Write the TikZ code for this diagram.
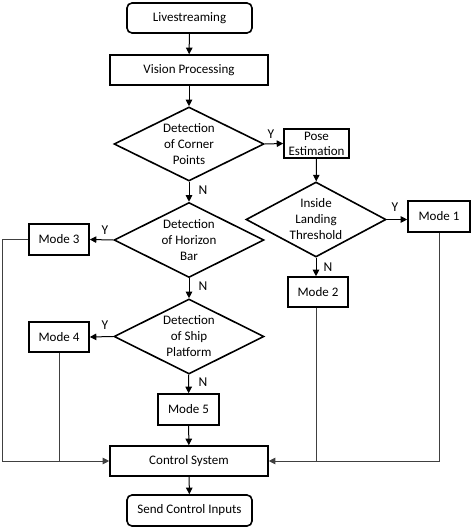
\documentclass[tikz,border=0pt]{standalone}
\usepackage{fontspec}
\setmainfont{Carlito}
\usetikzlibrary{shapes.geometric,arrows.meta,calc}
\begin{document}
\begin{tikzpicture}[x=1pt,y=-1pt,
  every node/.style={font=\fontsize{13}{16}\selectfont, text=black},
  box/.style={draw, line width=1.6pt, inner sep=0pt, align=center},
  term/.style={box, rounded corners=5pt},
  dec/.style={draw, line width=1.6pt, shape=diamond, inner sep=0pt, aspect=2, align=center},
  arr/.style={line width=1pt, -{Triangle[length=6.5pt,width=6.5pt]}},
  fb/.style={line width=0.9pt, black!75},
  fba/.style={fb, -{Triangle[length=6.5pt,width=6.5pt]}},
  lbl/.style={inner sep=0pt, font=\fontsize{13.5}{16}\selectfont}
]
\useasboundingbox (0,0) rectangle (474,530);

\node[term, minimum width=125pt, minimum height=30pt] (live) at (189.5,18) {Livestreaming};
\node[box, minimum width=158pt, minimum height=30pt] (vision) at (189,70) {Vision Processing};
\node[dec, minimum width=150pt, minimum height=74pt] (d1) at (189,144) {Detection\\of Corner\\Points};
\node[box, minimum width=65pt, minimum height=29pt, font=\fontsize{13}{15}\selectfont] (pose) at (316.5,143.5) {Pose\\Estimation};
\node[dec, aspect=1.87, minimum width=140pt, minimum height=75pt] (d2) at (316,219.5) {Inside\\Landing\\Threshold};
\node[box, minimum width=62pt, minimum height=31pt] (mode1) at (439,216.5) {Mode 1};
\node[box, minimum width=60pt, minimum height=30pt] (mode2) at (318,292) {Mode 2};
\node[dec, minimum width=150pt, minimum height=75pt] (d3) at (189,240) {Detection\\of Horizon\\Bar};
\node[box, minimum width=60pt, minimum height=31pt] (mode3) at (59,239.5) {Mode 3};
\node[dec, minimum width=150pt, minimum height=75pt] (d4) at (189,336.5) {Detection\\of Ship\\Platform};
\node[box, minimum width=60pt, minimum height=30pt] (mode4) at (59,337) {Mode 4};
\node[box, minimum width=61pt, minimum height=31pt] (mode5) at (188.5,409.5) {Mode 5};
\node[box, minimum width=158pt, minimum height=30pt] (ctrl) at (189,461) {Control System};
\node[term, minimum width=125pt, minimum height=31pt] (send) at (189.5,510.5) {Send Control Inputs};

% main flow
\draw[arr] (live) -- (vision);
\draw[arr] (vision) -- (d1);
\draw[arr] (d1.east) -- (pose.west);
\draw[arr] (pose) -- (d2);
\draw[arr] (d2.east) -- (d2.east -| mode1.west);
\draw[arr] (d2.south) -- (d2.south |- mode2.north);
\draw[arr] (d1) -- (d3);
\draw[arr] (d3.west) -- (mode3.east);
\draw[arr] (d3) -- (d4);
\draw[arr] (d4.west) -- (mode4.east);
\draw[arr] (d4) -- (mode5);
\draw[arr] (mode5) -- (ctrl);
\draw[arr] (ctrl) -- (send);

% feedback lines
\draw[fba] (mode3.west) -- ++(-26,0) |- (ctrl.west);
\draw[fb] (mode4.south) -- (mode4.south |- ctrl.west);
\draw[fba] (mode1.south) |- (ctrl.east);
\draw[fb] (mode2.south -| d2.south) -- (d2.south |- ctrl.east);

% labels
\node[lbl] (y1) at (271,134) {Y};
\node[lbl] (n1) at (203,190) {N};
\node[lbl] (y2) at (395,207) {Y};
\node[lbl] (n2) at (328,267) {N};
\node[lbl] (y3) at (105,230) {Y};
\node[lbl] (n3) at (203,286) {N};
\node[lbl] (y4) at (105,325) {Y};
\node[lbl] (n4) at (203,382) {N};
\end{tikzpicture}
\end{document}
